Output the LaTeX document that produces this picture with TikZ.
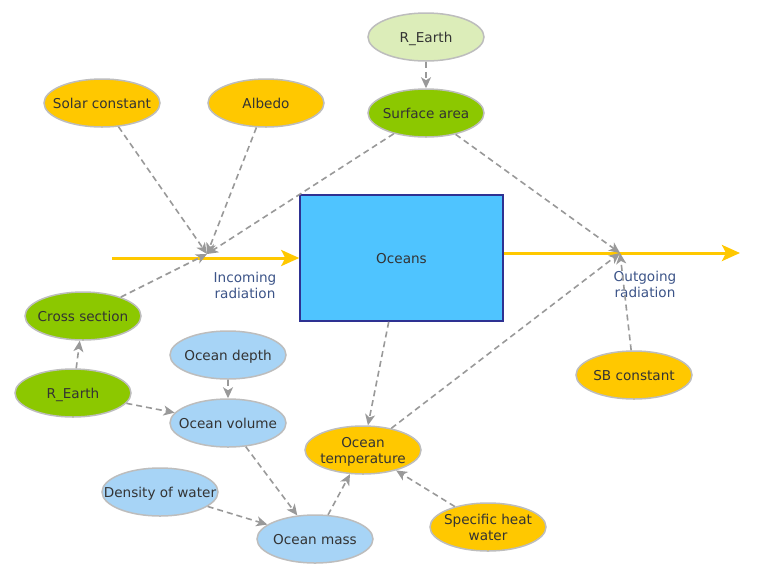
\documentclass[tikz,border=0pt]{standalone}
\usepackage{fontspec}
\setmainfont{DejaVu Sans}
\usetikzlibrary{shapes.geometric,arrows.meta}
\definecolor{cgreen}{HTML}{8CC800}
\definecolor{clgreen}{HTML}{DCEDB9}
\definecolor{cyellow}{HTML}{FFC800}
\definecolor{cblue}{HTML}{A7D4F6}
\definecolor{cbox}{HTML}{4FC4FF}
\definecolor{cboxb}{HTML}{2E3192}
\definecolor{cedge}{HTML}{BDBDBD}
\definecolor{cdash}{HTML}{999999}
\definecolor{ctext}{HTML}{333333}
\definecolor{clabel}{HTML}{3C5488}
\newcommand\ctxt[1]{\makebox[0pt]{\raisebox{-2pt}[\height][\depth]{\begin{tabular}{@{}c@{}}#1\end{tabular}}}}
\begin{document}
\begin{tikzpicture}[x=1pt,y=-1pt,
  every node/.style={font=\fontsize{13.6}{16}\selectfont, text=ctext},
  varnode/.style={ellipse, draw=cedge, line width=1.5pt, minimum width=116pt, minimum height=48pt, inner sep=0pt},
  gnode/.style={varnode, fill=cgreen},
  lgnode/.style={varnode, fill=clgreen},
  ynode/.style={varnode, fill=cyellow},
  bnode/.style={varnode, fill=cblue},
  stocknode/.style={rectangle, draw=cboxb, line width=1.5pt, fill=cbox, minimum width=203pt, minimum height=126pt, inner sep=0pt},
  link/.style={draw=cdash, line width=1.6pt, dash pattern=on 6pt off 4pt, -{Stealth[length=11pt,width=10pt,inset=3pt]}},
  flow/.style={draw=cyellow, line width=3pt, -{Stealth[length=18pt,width=16pt,inset=4pt]}},
  flowlabel/.style={text=clabel, align=center, font=\fontsize{13.6}{16}\selectfont}
]
\useasboundingbox (0,0) rectangle (763,574);

% nodes
\node[lgnode] (rearth1) at (426,37) {\ctxt{R\_Earth}};
\node[gnode] (surf) at (426,113) {\ctxt{Surface area}};
\node[ynode] (solar) at (102,103) {\ctxt{Solar constant}};
\node[ynode] (albedo) at (266,103) {\ctxt{Albedo}};
\node[stocknode] (oceans) at (401.5,258) {\ctxt{Oceans}};
\node[gnode] (cross) at (83,316) {\ctxt{Cross section}};
\node[gnode] (rearth2) at (73,393) {\ctxt{R\_Earth}};
\node[bnode] (depth) at (228,355) {\ctxt{Ocean depth}};
\node[bnode] (volume) at (228,423) {\ctxt{Ocean volume}};
\node[bnode] (density) at (160,492) {\ctxt{Density of water}};
\node[bnode] (mass) at (315,539) {\ctxt{Ocean mass}};
\node[ynode] (temp) at (363,450) {\ctxt{Ocean\\temperature}};
\node[ynode] (spec) at (488,527) {\ctxt{Specific heat\\water}};
\node[ynode] (sb) at (634,375) {\ctxt{SB constant}};

% flows
\coordinate (insrc) at (112,258);
\coordinate (inj) at (207,254);
\coordinate (outend) at (740,253);
\coordinate (outj) at (620,253);
\draw[flow] (insrc) -- (insrc -| oceans.west);
\draw[flow] (oceans.east |- outend) -- (outend);
\node[flowlabel] (inlab) at (245,285) {Incoming\\radiation};
\node[flowlabel] (outlab) at (645,284) {Outgoing\\radiation};

% links
\draw[link] (rearth1) -- (surf);
\draw[link] (solar) -- (inj);
\draw[link] (albedo) -- (inj);
\draw[link] (surf) -- (inj);
\draw[link] (cross) -- (inj);
\draw[link] (surf) -- (outj);
\draw[link] (temp) -- (outj);
\draw[link] (sb) -- (outj);
\draw[link] (oceans) -- (temp);
\draw[link] (rearth2) -- (cross);
\draw[link] (rearth2) -- (volume);
\draw[link] (depth) -- (volume);
\draw[link] (volume) -- (mass);
\draw[link] (density) -- (mass);
\draw[link] (mass) -- (temp);
\draw[link] (spec) -- (temp);
\end{tikzpicture}
\end{document}
